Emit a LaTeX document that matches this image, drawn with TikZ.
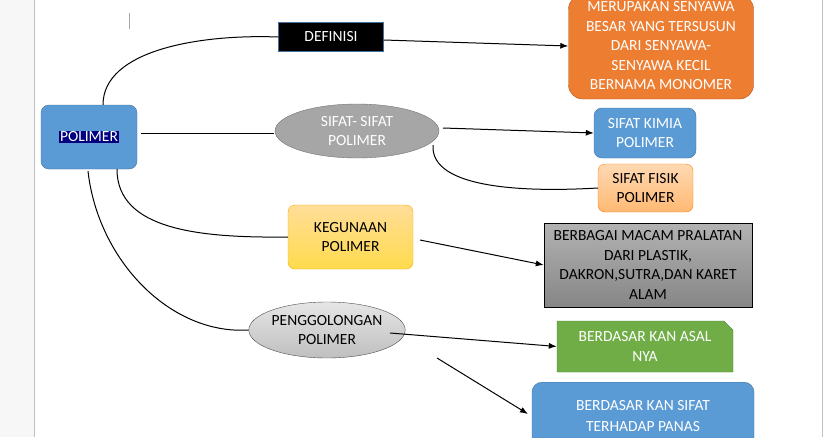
\documentclass[tikz,border=0pt]{standalone}
\usepackage{fontspec}
\setmainfont{Carlito}
\usetikzlibrary{shapes.geometric,shapes.misc,arrows.meta}
\definecolor{bl}{HTML}{5B9BD5}
\definecolor{bld}{HTML}{41719C}
\definecolor{org}{HTML}{ED7D31}
\definecolor{orgd}{HTML}{AE5A21}
\definecolor{grn}{HTML}{70AD47}
\definecolor{grnd}{HTML}{507E32}
\tikzset{
 txt/.style={font=\fontsize{15.5}{19.5}\selectfont,align=center,inner sep=0pt},
 bbox/.style={txt,rounded corners=8pt,fill=bl,draw=bld,text=white},
 con/.style={draw=black,line width=1pt},
 arr/.style={con,-{Latex[length=8pt,width=6pt]}}
}
\begin{document}
\begin{tikzpicture}[x=1pt,y=-1pt]
\useasboundingbox (0,0) rectangle (831,437);
\fill[gray!6] (0,0) rectangle (34,437);
\draw[gray!50] (34,0) -- (34,437);
\draw[gray!50] (822,0) -- (822,437);
\draw[gray!70] (129,13) -- (129,29);
% nodes
\node[bbox,minimum width=96pt,minimum height=64pt] (pol) at (89,137) {\setlength{\fboxsep}{1pt}\colorbox[HTML]{000080}{POLIMER}};
\node[txt,fill=black,text=white,draw=bld,minimum width=105pt,minimum height=29pt] (def) at (331,37) {DEFINISI};
\node[bbox,fill=org,draw=orgd,rounded corners=14pt,minimum width=185pt,minimum height=104pt] (mer) at (661,47) {\raisebox{6pt}{\begin{tabular}{@{}c@{}}MERUPAKAN SENYAWA\\BESAR YANG TERSUSUN\\DARI SENYAWA-\\SENYAWA KECIL\\BERNAMA MONOMER\end{tabular}}};
\node[ellipse,txt,fill=gray!70,draw=gray!90!black,text=white,minimum width=164pt,minimum height=54pt] (sif) at (357,131) {SIFAT- SIFAT\\POLIMER};
\node[bbox,minimum width=102pt,minimum height=50pt] (kim) at (645,133) {SIFAT KIMIA\\POLIMER};
\node[txt,rounded corners=7pt,top color=orange!30,bottom color=orange!55,draw=orange,minimum width=95pt,minimum height=48pt] (fis) at (645.5,188) {SIFAT FISIK\\POLIMER};
\node[txt,rounded corners=7pt,top color=yellow!35!orange!40,bottom color=yellow!60!orange!70,draw=orange!70!yellow,minimum width=125pt,minimum height=64pt] (keg) at (350.5,237) {KEGUNAAN\\POLIMER};
\node[txt,top color=gray!60,bottom color=gray!95,draw=black,minimum width=208pt,minimum height=84pt] (ber) at (648,265) {BERBAGAI MACAM PRALATAN\\DARI PLASTIK,\\DAKRON,SUTRA,DAN KARET\\ALAM};
\node[ellipse,txt,top color=gray!20,bottom color=gray!50,draw=gray!60!black,minimum width=140pt,minimum height=56pt] (pen) at (327,330) {PENGGOLONGAN\\POLIMER};
\node[txt,chamfered rectangle,chamfered rectangle corners=north east,chamfered rectangle xsep=6pt,fill=grn,draw=grnd,text=white,minimum width=176pt,minimum height=51pt] (asal) at (645,346.5) {BERDASAR KAN ASAL\\NYA};
\node[bbox,rounded corners=10pt,minimum width=222pt,minimum height=70pt,anchor=north] (pan) at (643,382) {\raisebox{10pt}{\begin{tabular}{@{}c@{}}BERDASAR KAN SIFAT\\[2pt]TERHADAP PANAS\end{tabular}}};
% connectors
\coordinate (polr) at (141,133);
\coordinate (sifl) at (274,133);
\draw[con] ([xshift=14pt]pol.north) .. controls (103,50) and (200,34) .. (def.west);
\draw[arr] ([yshift=-3pt]def.east) -- (mer.west|-0,46);
\draw[con] (polr) -- (sifl);
\draw[arr] (443,128) -- (kim.west);
\draw[con] (433,145) .. controls (430,190) and (530,192) .. (fis.west);
\draw[con] ([xshift=28pt]pol.south) .. controls (117,230) and (200,238) .. (keg.west);
\draw[arr] (420,240) -- (ber.west);
\draw[con] ([xshift=-1pt,yshift=-2pt]pol.south) .. controls (98,260) and (170,335) .. (pen.west);
\draw[arr] (390,333) -- (asal.west);
\draw[arr] (437,358) -- (528,414);
\end{tikzpicture}
\end{document}
